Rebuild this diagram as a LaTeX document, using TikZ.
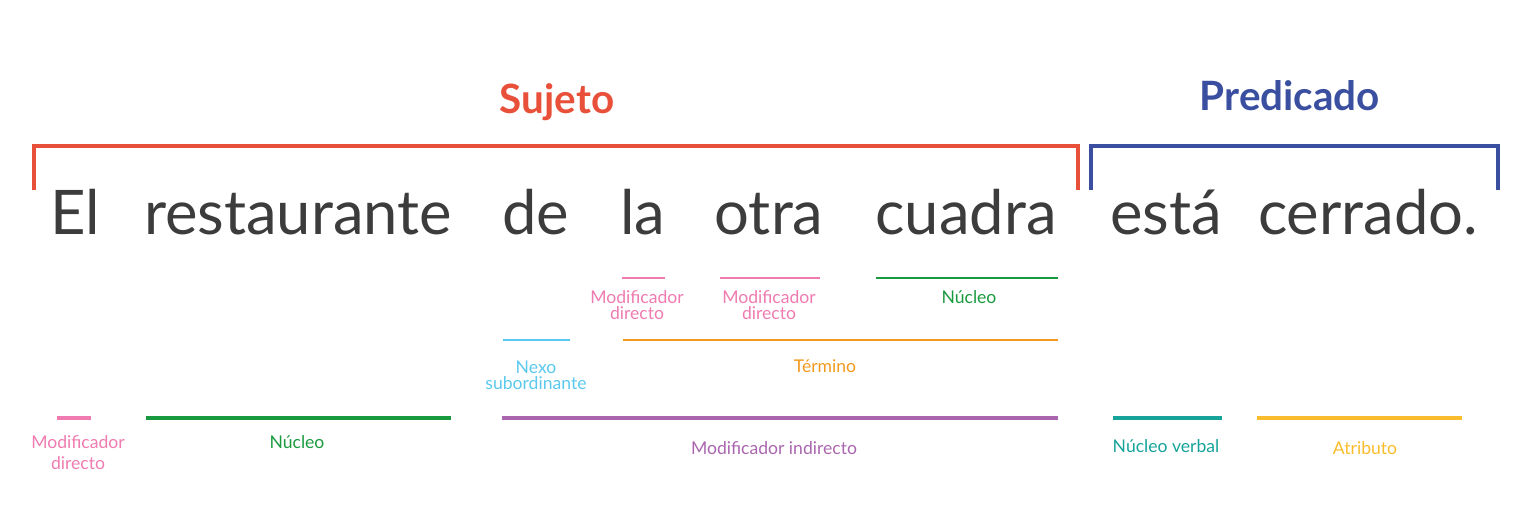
\documentclass[tikz,border=0pt]{standalone}
\usepackage{fontspec}
\setmainfont{Lato}
\usepackage{xcolor}
\usepackage{tikz}
\usetikzlibrary{positioning}

\definecolor{sujred}{HTML}{E8503A}
\definecolor{predblue}{HTML}{3B4FA0}
\definecolor{wordgray}{HTML}{3C3C3C}
\definecolor{mdpink}{HTML}{EF7BB0}
\definecolor{nucgreen}{HTML}{1A9A3E}
\definecolor{nexocyan}{HTML}{5BC8EE}
\definecolor{termorange}{HTML}{F39A1E}
\definecolor{mipurple}{HTML}{A966AE}
\definecolor{nvteal}{HTML}{15A39A}
\definecolor{atryellow}{HTML}{F9BC2C}

\tikzset{
  word/.style={anchor=base, inner sep=0pt, text=wordgray, font=\fontsize{35}{40}\selectfont},
  part/.style={anchor=base, inner sep=0pt, font=\fontsize{23}{26}\selectfont\bfseries},
  lab/.style={anchor=base, inner sep=0pt, align=center, font=\fontsize{10}{9.3}\selectfont},
  labb/.style={anchor=base, inner sep=0pt, align=center, font=\fontsize{10}{12}\selectfont},
  thinline/.style={line width=1.4pt},
  thickline/.style={line width=2.3pt},
  bracket/.style={line width=2.3pt}
}

\begin{document}
\begin{tikzpicture}[x=0.02cm, y=-0.02cm]
\useasboundingbox (0,0) rectangle (1536,519);

% sujeto y predicado
\node [part, text=sujred] (suj) at (557,114) {Sujeto};
\node [part, text=predblue] (pred) at (1290,111) {Predicado};
\draw [bracket, draw=sujred] (34,190) -- (34,146) -- (1078,146) -- (1078,190);
\draw [bracket, draw=predblue] (1091,190) -- (1091,146) -- (1498,146) -- (1498,190);

% la oracion
\node [word] (el) at (75,235) {El};
\node [word] (rest) at (298,235) {restaurante};
\node [word] (de) at (536,235) {de};
\node [word] (la) at (643,235) {la};
\node [word] (otra) at (769,235) {otra};
\node [word] (cuadra) at (966,235) {cuadra};
\node [word] (esta) at (1166,235) {está};
\node [word] (cerr) at (1368,235) {cerrado.};

% primer nivel
\draw [thinline, draw=mdpink] (622,278) -- (665,278);
\draw [thinline, draw=mdpink] (720,278) -- (820,278);
\draw [thinline, draw=nucgreen] (876,278) -- (1058,278);
\node [lab, text=mdpink] (mdla) at (637,320) {Modificador\\directo};
\node [lab, text=mdpink] (mdotra) at (769,320) {Modificador\\directo};
\node [lab, text=nucgreen] (nuccuadra) at (969,304) {Núcleo};

% segundo nivel
\draw [thinline, draw=nexocyan] (503,340) -- (570,340);
\draw [thinline, draw=termorange] (623,340) -- (1058,340);
\node [lab, text=nexocyan] (nexo) at (536,390) {Nexo\\subordinante};
\node [lab, text=termorange] (term) at (825,373) {Término};

% tercer nivel
\draw [thickline, draw=mdpink] (57,418) -- (91,418);
\draw [thickline, draw=nucgreen] (146,418) -- (451,418);
\draw [thickline, draw=mipurple] (502,418) -- (1058,418);
\draw [thickline, draw=nvteal] (1113,418) -- (1222,418);
\draw [thickline, draw=atryellow] (1257,418) -- (1462,418);
\node [labb, text=mdpink] (mdel) at (78,470) {Modificador\\directo};
\node [lab, text=nucgreen] (nucrest) at (297,449) {Núcleo};
\node [lab, text=mipurple] (mi) at (774,455) {Modificador indirecto};
\node [lab, text=nvteal] (nv) at (1166,453) {Núcleo verbal};
\node [lab, text=atryellow] (atr) at (1365,455) {Atributo};
\end{tikzpicture}
\end{document}
